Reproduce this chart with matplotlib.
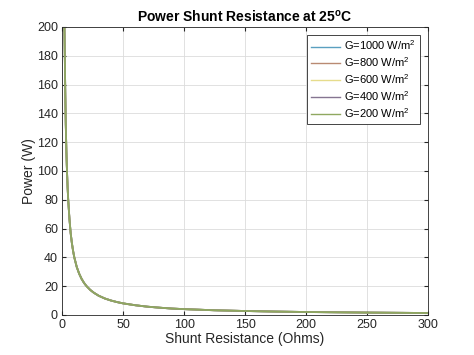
import numpy as np
import matplotlib
matplotlib.use('Agg')
import matplotlib.pyplot as plt

plt.rcParams['font.family'] = ['Liberation Sans', 'DejaVu Sans']
plt.rcParams['mathtext.fontset'] = 'custom'
plt.rcParams['mathtext.rm'] = 'Liberation Sans'
plt.rcParams['mathtext.bf'] = 'Liberation Sans:bold'

# shunt resistance (Ohms) and power (W)
resistance = [1.9, 2.2, 2.6, 3, 3.5, 4, 4.5, 5, 6, 7, 8, 9, 10, 12, 14, 16, 18, 20, 23, 26, 30,
              35, 40, 45, 50, 60, 70, 80, 90, 100, 125, 150, 175, 200, 250, 300]
p_1000 = [200, 182, 154, 133, 114, 100, 89, 80, 67, 57, 50, 44.5, 40, 33.3, 28.6, 25, 22.2, 20, 17.4, 15.4, 13.3,
          11.4, 10, 8.9, 8, 6.7, 5.7, 5, 4.4, 4, 3.2, 2.7, 2.3, 2, 1.6, 1.3]
p_800 = list(p_1000)
p_600 = list(p_1000)
p_400 = list(p_1000)
p_200 = list(p_1000)

labels = ['G=1000 W/m$^2$', 'G=800 W/m$^2$', 'G=600 W/m$^2$', 'G=400 W/m$^2$', 'G=200 W/m$^2$']
colors = ['#5a9fc0', '#b98a72', '#e6dc8c', '#857591', '#8fa860']

fig = plt.figure(figsize=(4.74, 3.55), dpi=100)
ax = fig.add_axes([0.131, 0.113, 0.772, 0.811])

for p, lab, c in zip([p_1000, p_800, p_600, p_400, p_200], labels, colors):
    ax.plot(resistance, p, color=c, linewidth=1.3, label=lab)

ax.set_xlim(0, 300)
ax.set_ylim(0, 200)
ax.set_xticks(np.arange(0, 301, 50))
ax.set_yticks(np.arange(0, 201, 20))
ax.grid(True, color='#dcdcdc', linewidth=0.6)
ax.set_axisbelow(True)
ax.tick_params(direction='in', top=True, right=True, length=3, labelsize=9, colors='#262626', pad=3)
for s in ax.spines.values():
    s.set_color('#262626')
    s.set_linewidth(0.6)

ax.set_xlabel('Shunt Resistance (Ohms)', fontsize=10, color='#262626', labelpad=1)
ax.set_ylabel('Power (W)', fontsize=10, color='#262626', labelpad=1)
ax.set_title(r'Power Shunt Resistance at 25$^{\mathbf{o}}$C', fontsize=10, fontweight='bold', pad=4)

leg = ax.legend(loc='upper right', fontsize=8, fancybox=False, framealpha=1,
                edgecolor='#262626', handlelength=2.6, handletextpad=0.4,
                borderaxespad=0.7, labelspacing=0.28, borderpad=0.35)
leg.get_frame().set_linewidth(0.6)
for line in leg.get_lines():
    line.set_linewidth(1.0)

fig.savefig('out.png', dpi=100)
